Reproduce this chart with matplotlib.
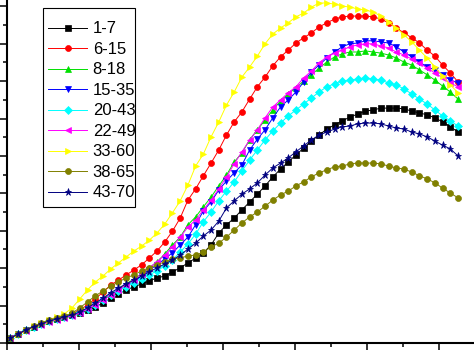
import numpy as np
import matplotlib
matplotlib.use('Agg')
from matplotlib import pyplot as plt
from matplotlib.patches import Rectangle
from matplotlib.ticker import MultipleLocator

plt.rcParams['font.family'] = ['Liberation Sans', 'DejaVu Sans']

# x positions of the samples (same grid for every series)
x = np.arange(1.5, 176, 3)

serie_1_7 = [1.3, 2.4, 3.5, 4.3, 5.1, 5.9, 6.4, 7.0, 7.5, 8.0,
             8.8, 9.6, 10.7, 12.0, 13.1, 14.2, 15.0, 15.8, 16.6, 17.4,
             17.9, 19.0, 20.1, 21.4, 22.7, 24.1, 26.2, 29.4, 31.6, 33.4,
             35.6, 37.7, 39.8, 42.0, 44.4, 46.5, 48.4, 50.3, 52.1, 54.0,
             55.6, 57.2, 58.3, 59.4, 60.4, 61.2, 62.0, 62.3, 62.8, 62.8,
             62.8, 62.6, 62.0, 61.5, 61.0, 60.2, 59.1, 57.8, 56.4]
serie_6_15 = [1.3, 2.4, 3.5, 4.3, 5.1, 5.9, 6.4, 7.0, 7.8, 8.8,
              10.2, 11.8, 13.6, 15.5, 16.8, 18.2, 19.5, 20.9, 22.7, 24.6,
              27.0, 29.9, 33.4, 38.2, 41.2, 44.7, 48.1, 51.6, 55.6, 59.1,
              61.8, 65.2, 68.5, 71.1, 74.1, 76.5, 78.3, 80.2, 81.6, 82.9,
              84.5, 85.6, 86.6, 87.2, 87.4, 87.4, 87.4, 87.2, 86.6, 85.6,
              84.2, 82.9, 81.6, 80.2, 78.3, 76.7, 74.3, 72.2, 69.8]
serie_8_18 = [1.3, 2.4, 3.5, 4.3, 5.1, 5.9, 6.4, 7.0, 7.5, 8.3,
              9.4, 10.4, 11.8, 13.1, 14.4, 15.8, 17.1, 18.5, 20.1, 21.7,
              23.8, 26.2, 28.3, 31.6, 33.7, 36.4, 39.0, 42.0, 44.9, 48.4,
              50.8, 54.3, 57.0, 59.6, 62.3, 64.7, 66.6, 68.2, 70.1, 71.7,
              73.5, 75.1, 76.5, 77.3, 77.8, 77.8, 78.1, 77.8, 77.5, 77.0,
              76.2, 75.1, 74.3, 73.0, 71.7, 70.3, 68.7, 67.1, 65.2]
serie_15_35 = [1.3, 2.4, 3.5, 4.3, 5.1, 5.9, 6.4, 7.0, 7.5, 8.3,
               9.1, 10.2, 11.5, 12.8, 14.2, 15.2, 16.3, 17.9, 19.5, 20.9,
               22.5, 24.1, 26.2, 28.3, 31.6, 35.3, 37.7, 40.9, 43.3, 45.5,
               47.6, 51.6, 54.5, 57.0, 60.2, 63.1, 65.0, 67.1, 69.8, 72.5,
               74.3, 76.2, 77.8, 79.2, 80.0, 80.2, 80.8, 80.8, 80.5, 80.2,
               79.2, 77.8, 76.5, 75.1, 73.8, 73.0, 71.7, 70.3, 69.5]
serie_20_43 = [1.3, 2.4, 3.5, 4.3, 5.1, 5.9, 6.4, 7.0, 7.5, 8.3,
               9.1, 10.2, 11.5, 12.8, 13.9, 15.0, 16.0, 17.1, 18.2, 19.3,
               20.6, 22.2, 24.3, 26.5, 29.1, 32.4, 35.0, 38.0, 40.6, 43.1,
               46.0, 48.9, 51.6, 54.3, 56.7, 58.8, 60.7, 62.3, 63.9, 65.5,
               67.1, 68.5, 69.3, 70.1, 70.3, 70.6, 70.9, 70.6, 70.3, 69.5,
               69.0, 67.9, 66.6, 65.2, 63.9, 62.3, 60.7, 59.4, 58.0]
serie_22_49 = [1.3, 2.4, 3.2, 4.3, 4.8, 5.6, 6.2, 6.7, 7.2, 8.0,
               9.1, 10.2, 11.5, 12.8, 14.2, 15.5, 16.8, 18.5, 20.1, 21.7,
               23.5, 25.7, 28.3, 31.0, 32.9, 35.6, 38.2, 41.2, 44.4, 47.9,
               51.1, 54.3, 57.0, 60.2, 63.1, 65.0, 66.9, 68.5, 70.9, 72.7,
               74.9, 76.5, 77.5, 78.3, 79.2, 79.7, 80.0, 80.0, 79.4, 78.9,
               77.8, 77.0, 75.9, 74.9, 73.5, 72.2, 70.9, 69.5, 68.5]
serie_33_60 = [1.3, 2.4, 3.5, 4.5, 5.3, 6.2, 7.0, 7.8, 9.4, 11.8,
               14.2, 16.3, 17.9, 19.8, 21.4, 23.0, 24.6, 25.9, 27.5, 29.4,
               31.8, 34.8, 38.0, 42.2, 47.3, 50.5, 55.1, 59.1, 63.6, 67.1,
               71.1, 73.8, 76.7, 80.0, 82.6, 84.2, 85.6, 87.2, 88.2, 89.8,
               90.9, 90.9, 90.6, 90.1, 89.8, 89.3, 89.0, 88.5, 87.4, 85.8,
               84.2, 82.4, 80.5, 78.3, 76.2, 73.8, 71.4, 69.0, 66.9]
serie_38_65 = [1.3, 2.4, 3.5, 4.5, 5.3, 6.2, 6.7, 7.2, 8.0, 9.4,
               11.0, 12.6, 13.9, 15.2, 16.3, 17.4, 18.2, 19.3, 20.1, 20.9,
               21.7, 22.5, 22.7, 23.3, 23.5, 24.3, 25.7, 26.7, 28.3, 30.2,
               32.1, 33.7, 35.0, 36.6, 38.2, 39.6, 40.6, 42.0, 43.1, 44.4,
               45.5, 46.3, 47.1, 47.3, 47.9, 48.1, 48.1, 48.1, 47.9, 47.3,
               46.8, 46.5, 45.7, 44.7, 43.9, 42.8, 41.4, 40.1, 38.8]
serie_43_70 = [1.3, 2.4, 3.5, 4.3, 5.1, 5.9, 6.4, 7.0, 7.5, 8.3,
               9.4, 10.7, 12.0, 13.4, 14.7, 15.8, 16.8, 17.9, 19.0, 20.1,
               21.1, 22.2, 23.5, 25.1, 26.7, 28.6, 30.2, 32.6, 36.1, 38.0,
               39.8, 41.2, 42.8, 44.9, 46.8, 48.1, 49.5, 51.1, 52.7, 54.3,
               55.6, 56.4, 57.2, 57.8, 58.0, 58.6, 58.8, 58.8, 58.6, 58.0,
               57.5, 57.2, 56.4, 55.9, 55.1, 54.0, 52.9, 51.9, 50.0]

rotulos = ['1-7', '6-15', '8-18', '15-35', '20-43', '22-49', '33-60', '38-65', '43-70']
series = [serie_1_7, serie_6_15, serie_8_18, serie_15_35, serie_20_43,
          serie_22_49, serie_33_60, serie_38_65, serie_43_70]
cores = ['#000000', '#ff0000', '#00e000', '#0000ff', '#00ffff',
         '#ff00ff', '#ffff00', '#808000', '#000080']
marcadores = ['s', 'o', '^', 'v', 'D', '<', '>', 'o', '*']
tamanhos = [3.8, 4.3, 4.5, 4.5, 3.6, 4.5, 4.5, 4.3, 5.2]

W, H = 474, 350
fig = plt.figure(figsize=(W / 100, H / 100), dpi=100)
ax = fig.add_axes([6.5 / W, 7 / H, 1 - 6.5 / W, 343 / H])

for y, rot, cor, mk, ms in zip(series, rotulos, cores, marcadores, tamanhos):
  ax.plot(x, y, color=cor, marker=mk, markersize=ms, markeredgewidth=0.5,
          linewidth=0.7, label=rot)

ax.set_xlim(0, 181.7)
ax.set_ylim(0, 91.7)
ax.xaxis.set_major_locator(MultipleLocator(28))
ax.xaxis.set_minor_locator(MultipleLocator(14))
ax.yaxis.set_major_locator(MultipleLocator(10))
ax.yaxis.set_minor_locator(MultipleLocator(5))
ax.tick_params(which='both', direction='out', width=1.1, labelbottom=False, labelleft=False)
ax.tick_params(which='major', length=6)
ax.tick_params(which='minor', length=3)
for lado in ['top', 'right']:
  ax.spines[lado].set_visible(False)
for lado in ['left', 'bottom']:
  ax.spines[lado].set_linewidth(1.5)

# legenda sem moldura; a moldura (caixa branca com borda preta) vai por baixo
caixa = Rectangle((43 / W, 1 - 207 / H), 92 / W, 199 / H, transform=fig.transFigure,
                  facecolor='white', edgecolor='black', linewidth=0.8, zorder=5)
fig.add_artist(caixa)
leg = ax.legend(loc='upper left', bbox_to_anchor=(35 / W, 1 - 8 / H),
                bbox_transform=fig.transFigure, fontsize=12, frameon=False,
                borderaxespad=0, handlelength=2.3, labelspacing=0.33,
                borderpad=0.8, handletextpad=0.36)
leg.remove()
fig.add_artist(leg)
leg.set_zorder(6)

fig.savefig('out.png', dpi=100)
